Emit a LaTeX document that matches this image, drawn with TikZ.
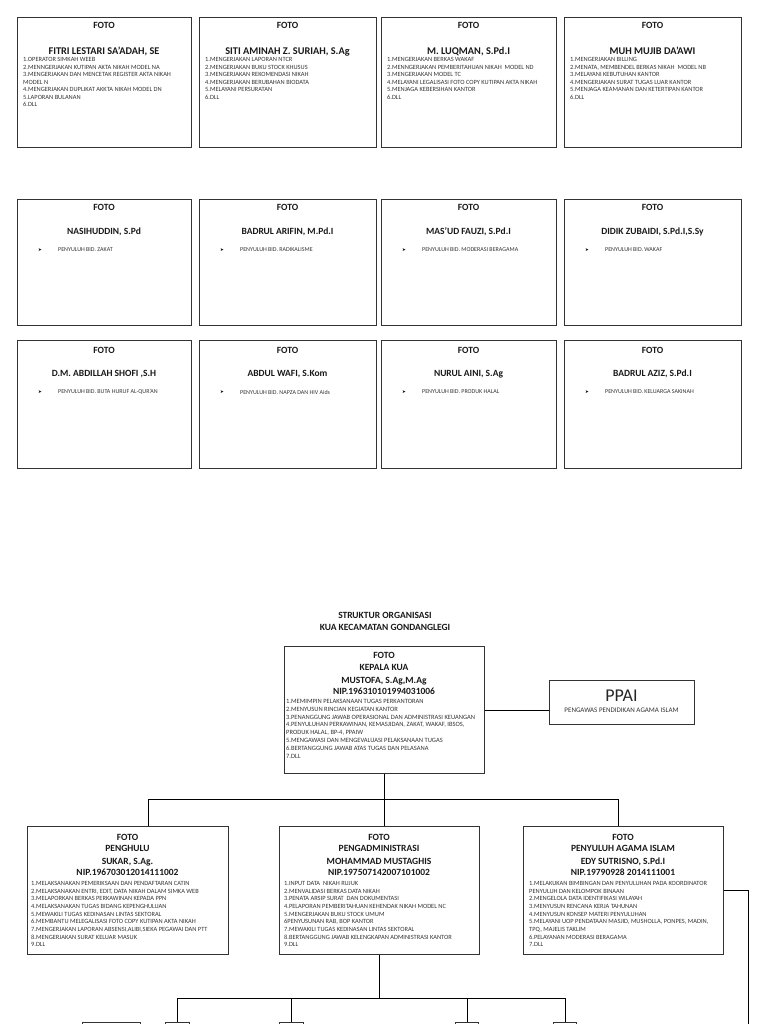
\documentclass[tikz,border=0pt]{standalone}
\usepackage{fontspec}
\setmainfont{Carlito}
\newfontfamily\dejavu{DejaVu Sans}
\begin{document}
\begin{tikzpicture}[x=1pt,y=-1pt,
  box/.style={draw=black!80, line width=0.9pt, anchor=north west, inner sep=0pt},
  hd/.style={font=\bfseries\fontsize{9.5}{11}\selectfont, anchor=base, inner sep=0pt, text=black!90},
  nm/.style={font=\bfseries\fontsize{10.3}{12}\selectfont, anchor=base, inner sep=0pt, text=black!90},
  lst/.style={font=\fontsize{6.4}{7.5}\selectfont, anchor=north west, align=left, inner sep=0pt, text=black!80},
  lstb/.style={font=\fontsize{6.4}{7.7}\selectfont, anchor=north west, align=left, inner sep=0pt, text=black!80},
  bul/.style={font=\dejavu\fontsize{4.5}{5}\selectfont, anchor=center, inner sep=0pt},
  sm/.style={font=\fontsize{6}{6.5}\selectfont, anchor=west, inner sep=0pt, text=black!80},
  conn/.style={draw=black, line width=0.8pt}]
\useasboundingbox (0,0) rectangle (768,1024);

% ---------- top row ----------
\node[box, minimum width=174pt, minimum height=130pt] (t1) at (17,17) {};
\node[box, minimum width=177pt, minimum height=130pt] (t2) at (199,17) {};
\node[box, minimum width=175pt, minimum height=130pt] (t3) at (381,17) {};
\node[box, minimum width=177pt, minimum height=130pt] (t4) at (564,17) {};
\node[hd] (t1f) at (104,29) {FOTO};
\node[hd] (t2f) at (287.5,29) {FOTO};
\node[hd] (t3f) at (468.5,29) {FOTO};
\node[hd] (t4f) at (652.5,29) {FOTO};
\node[nm] (t1n) at (104,55) {FITRI LESTARI SA’ADAH, SE};
\node[nm] (t2n) at (287.5,55) {SITI AMINAH Z. SURIAH, S.Ag};
\node[nm] (t3n) at (468.5,55) {M. LUQMAN, S.Pd.I};
\node[nm] (t4n) at (652.5,55) {MUH MUJIB DA’AWI};
\node[lst] (t1l) at (23,57.5) {1.OPERATOR SIMKAH WEEB\\2.MENNGERJAKAN KUTIPAN AKTA NIKAH MODEL NA\\3.MENGERJAKAN DAN MENCETAK REGISTER AKTA NIKAH\\MODEL N\\4.MENGERJAKAN DUPLIKAT AKKTA NIKAH MODEL DN\\5.LAPORAN BULANAN\\6.DLL};
\node[lst] (t2l) at (205,57.5) {1.MENGERJAKAN LAPORAN NTCR\\2.MENGERJAKAN BUKU STOCK KHUSUS\\3.MENGERJAKAN REKOMENDASI NIKAH\\4.MENGERJAKAN BERUBAHAN BIODATA\\5.MELAYANI PERSURATAN\\6.DLL};
\node[lst] (t3l) at (387,57.5) {1.MENGERJAKAN BERKAS WAKAF\\2.MENNGERJAKAN PEMBERITAHUAN NIKAH~~MODEL ND\\3.MENGERJAKAN MODEL TC\\4.MELAYANI LEGALISASI FOTO COPY KUTIPAN AKTA NIKAH\\5.MENJAGA KEBERSIHAN KANTOR\\6.DLL};
\node[lst] (t4l) at (570,57.5) {1.MENGERJAKAN BILLING\\2.MENATA, MEMBENDEL BERKAS NIKAH~~MODEL NB\\3.MELAYANI KEBUTUHAN KANTOR\\4.MENGERJAKAN SURAT TUGAS LUAR KANTOR\\5.MENJAGA KEAMANAN DAN KETERTIPAN KANTOR\\6.DLL};

% ---------- second row ----------
\node[box, minimum width=174pt, minimum height=126pt] (m1) at (17,199) {};
\node[box, minimum width=177pt, minimum height=126pt] (m2) at (199,199) {};
\node[box, minimum width=175pt, minimum height=126pt] (m3) at (381,199) {};
\node[box, minimum width=177pt, minimum height=126pt] (m4) at (564,199) {};
\node[hd] (m1f) at (104,211) {FOTO};
\node[hd] (m2f) at (287.5,211) {FOTO};
\node[hd] (m3f) at (468.5,211) {FOTO};
\node[hd] (m4f) at (652.5,211) {FOTO};
\node[hd] (m1n) at (104,235) {NASIHUDDIN, S.Pd};
\node[hd] (m2n) at (287.5,235) {BADRUL ARIFIN, M.Pd.I};
\node[hd] (m3n) at (468.5,235) {MAS’UD FAUZI, S.Pd.I};
\node[hd] (m4n) at (652.5,235) {DIDIK ZUBAIDI, S.Pd.I,S.Sy};
\node[bul] (m1b) at (40,250) {➤};
\node[bul] (m2b) at (222,250) {➤};
\node[bul] (m3b) at (404,250) {➤};
\node[bul] (m4b) at (587,250) {➤};
\node[sm] (m1t) at (58,250) {PENYULUH BID. ZAKAT};
\node[sm] (m2t) at (240,250) {PENYULUH BID. RADIKALISME};
\node[sm] (m3t) at (422,250) {PENYULUH BID. MODERASI BERAGAMA};
\node[sm] (m4t) at (605,250) {PENYULUH BID. WAKAF};

% ---------- third row ----------
\node[box, minimum width=174pt, minimum height=128pt] (b1) at (17,340) {};
\node[box, minimum width=177pt, minimum height=128pt] (b2) at (199,340) {};
\node[box, minimum width=175pt, minimum height=128pt] (b3) at (381,340) {};
\node[box, minimum width=177pt, minimum height=128pt] (b4) at (564,340) {};
\node[hd] (b1f) at (104,353) {FOTO};
\node[hd] (b2f) at (287.5,353) {FOTO};
\node[hd] (b3f) at (468.5,353) {FOTO};
\node[hd] (b4f) at (652.5,353) {FOTO};
\node[hd] (b1n) at (104,376) {D.M. ABDILLAH SHOFI ,S.H};
\node[hd] (b2n) at (287.5,376) {ABDUL WAFI, S.Kom};
\node[hd] (b3n) at (468.5,376) {NURUL AINI, S.Ag};
\node[hd] (b4n) at (652.5,376) {BADRUL AZIZ, S.Pd.I};
\node[bul] (b1b) at (40,392) {➤};
\node[bul] (b2b) at (222,392) {➤};
\node[bul] (b3b) at (404,392) {➤};
\node[bul] (b4b) at (587,392) {➤};
\node[sm] (b1t) at (58,392) {PENYULUH BID. BUTA HURUF AL-QUR'AN};
\node[sm] (b2t) at (240,392) {PENYULUH BID. NAPZA DAN HIV Aids};
\node[sm] (b3t) at (422,392) {PENYULUH BID. PRODUK HALAL};
\node[sm] (b4t) at (605,392) {PENYULUH BID. KELUARGA SAKINAH};

% ---------- title ----------
\node[hd] (ti1) at (385,618) {STRUKTUR ORGANISASI};
\node[hd] (ti2) at (385,630) {KUA KECAMATAN GONDANGLEGI};

% ---------- kepala ----------
\node[box, minimum width=200pt, minimum height=127pt] (kep) at (284,646) {};
\node[hd] (kf) at (384,658) {FOTO};
\node[hd] (kt) at (384,670) {KEPALA KUA};
\node[hd] (kn) at (384,683) {MUSTOFA, S.Ag,M.Ag};
\node[hd] (kp) at (384,694) {NIP.196310101994031006};
\node[lstb, font=\fontsize{6.5}{7.85}\selectfont] (kl) at (286,699) {1.MEMIMPIN PELAKSANAAN TUGAS PERKANTORAN\\2.MENYUSUN RINCIAN KEGIATAN KANTOR\\3.PENANGGUNG JAWAB OPERASIONAL DAN ADMINISTRASI KEUANGAN\\4.PENYULUHAN PERKAWINAN, KEMASJIDAN, ZAKAT, WAKAF, IBSOS,\\PRODUK HALAL, BP-4, PPAIW\\5.MENGAWASI DAN MENGEVALUASI PELAKSANAAN TUGAS\\6.BERTANGGUNG JAWAB ATAS TUGAS DAN PELASANA\\7.DLL};

% ---------- PPAI ----------
\node[box, minimum width=145pt, minimum height=44pt] (ppai) at (549,680) {};
\node[font=\fontsize{18}{20}\selectfont, anchor=base, inner sep=0pt, text=black!85] (ppt) at (621.5,701.5) {PPAI};
\node[font=\fontsize{7}{8}\selectfont, anchor=base, inner sep=0pt, text=black!80] (pps) at (621.5,712.5) {PENGAWAS PENDIDIKAN AGAMA ISLAM};

% ---------- second level ----------
\node[box, minimum width=201pt, minimum height=128pt] (pgh) at (27,826) {};
\node[box, minimum width=200pt, minimum height=128pt] (adm) at (279,826) {};
\node[box, minimum width=200pt, minimum height=128pt] (pyl) at (523,826) {};

\node[hd] (pgf) at (127.5,840) {FOTO};
\node[hd] (pgt) at (127.5,851) {PENGHULU};
\node[hd] (pgn) at (127.5,864) {SUKAR, S.Ag.};
\node[hd] (pgp) at (127.5,875) {NIP.196703012014111002};
\node[lstb] (pgl) at (31,881) {1.MELAKSANAKAN PEMERIKSAAN DAN PENDAFTARAN CATIN\\2.MELAKSANAKAN ENTRI, EDIT, DATA NIKAH DALAM SIMKA WEB\\3.MELAPORKAN BERKAS PERKAWINAN KEPADA PPN\\4.MELAKSANAKAN TUGAS BIDANG KEPENGHULUAN\\5.MEWAKILI TUGAS KEDINASAN LINTAS SEKTORAL\\6.MEMBANTU MELEGALISASI FOTO COPY KUTIPAN AKTA NIKAH\\7.MENGERJAKAN LAPORAN ABSENSI,ALIBI,SIEKA PEGAWAI DAN PTT\\8.MENGERJAKAN SURAT KELUAR MASUK\\9.DLL};

\node[hd] (adf) at (379,840) {FOTO};
\node[hd] (adt) at (379,851) {PENGADMINISTRASI};
\node[hd] (adn) at (379,864) {MOHAMMAD MUSTAGHIS};
\node[hd] (adp) at (379,875) {NIP.197507142007101002};
\node[lstb] (adl) at (284,881) {1.INPUT DATA~~NIKAH RUJUK\\2.MENVALIDASI BERKAS DATA NIKAH\\3.PENATA ARSIP SURAT~~DAN DOKUMENTASI\\4.PELAPORAN PEMBERITAHUAN KEHENDAK NIKAH MODEL NC\\5.MENGERJAKAN BUKU STOCK UMUM\\6PENYUSUNAN RAB, BOP KANTOR\\7.MEWAKILI TUGAS KEDINASAN LINTAS SEKTORAL\\8.BERTANGGUNG JAWAB KELENGKAPAN ADMINISTRASI KANTOR\\9.DLL};

\node[hd] (pyf) at (623,840) {FOTO};
\node[hd] (pyt) at (623,851) {PENYULUH AGAMA ISLAM};
\node[hd] (pyn) at (623,864) {EDY SUTRISNO, S.Pd.I};
\node[hd] (pyp) at (623,875) {NIP.19790928 2014111001};
\node[lstb] (pyll) at (529,881) {1.MELAKUKAN BIMBINGAN DAN PENYULUHAN PADA KOORDINATOR\\PENYULUH DAN KELOMPOK BINAAN\\2.MENGELOLA DATA IDENTIFIKASI WILAYAH\\3.MENYUSUN RENCANA KERJA TAHUNAN\\4.MENYUSUN KONSEP MATERI PENYULUHAN\\5.MELAYANI UOP PENDATAAN MASJID, MUSHOLLA, PONPES, MADIN,\\TPQ, MAJELIS TAKLIM\\6.PELAYANAN MODERASI BERAGAMA\\7.DLL};

% ---------- third level (cut off) ----------
\node[box, minimum width=58pt, minimum height=14pt] (s1) at (82,1022) {};
\node[box, minimum width=24pt, minimum height=14pt] (s2) at (165,1022) {};
\node[box, minimum width=24pt, minimum height=14pt] (s3) at (279,1022) {};
\node[box, minimum width=23pt, minimum height=14pt] (s4) at (455,1022) {};
\node[box, minimum width=23pt, minimum height=14pt] (s5) at (553,1022) {};

% ---------- connectors ----------
\coordinate (busL) at (148,799);
\coordinate (busR) at (618,799);
\coordinate (lowL) at (177,998);
\coordinate (rEnd) at (748,1034);
\draw[conn] (kep.east) -- (ppai.west |- kep.east);
\draw[conn] (kep.south) -- (kep.south |- adm.north);
\draw[conn] (busL |- pgh.north) -- (busL) -- (busR) -- (busR |- pyl.north);
\draw[conn] (adm.south) -- (adm.south |- lowL);
\draw[conn] (s2.north) -- (s2.north |- lowL) -- (s5.north |- lowL) -- (s5.north);
\draw[conn] (s3.north) -- (s3.north |- lowL);
\draw[conn] (s4.north) -- (s4.north |- lowL);
\draw[conn] (pyl.east) -| (rEnd);
\end{tikzpicture}
\end{document}
